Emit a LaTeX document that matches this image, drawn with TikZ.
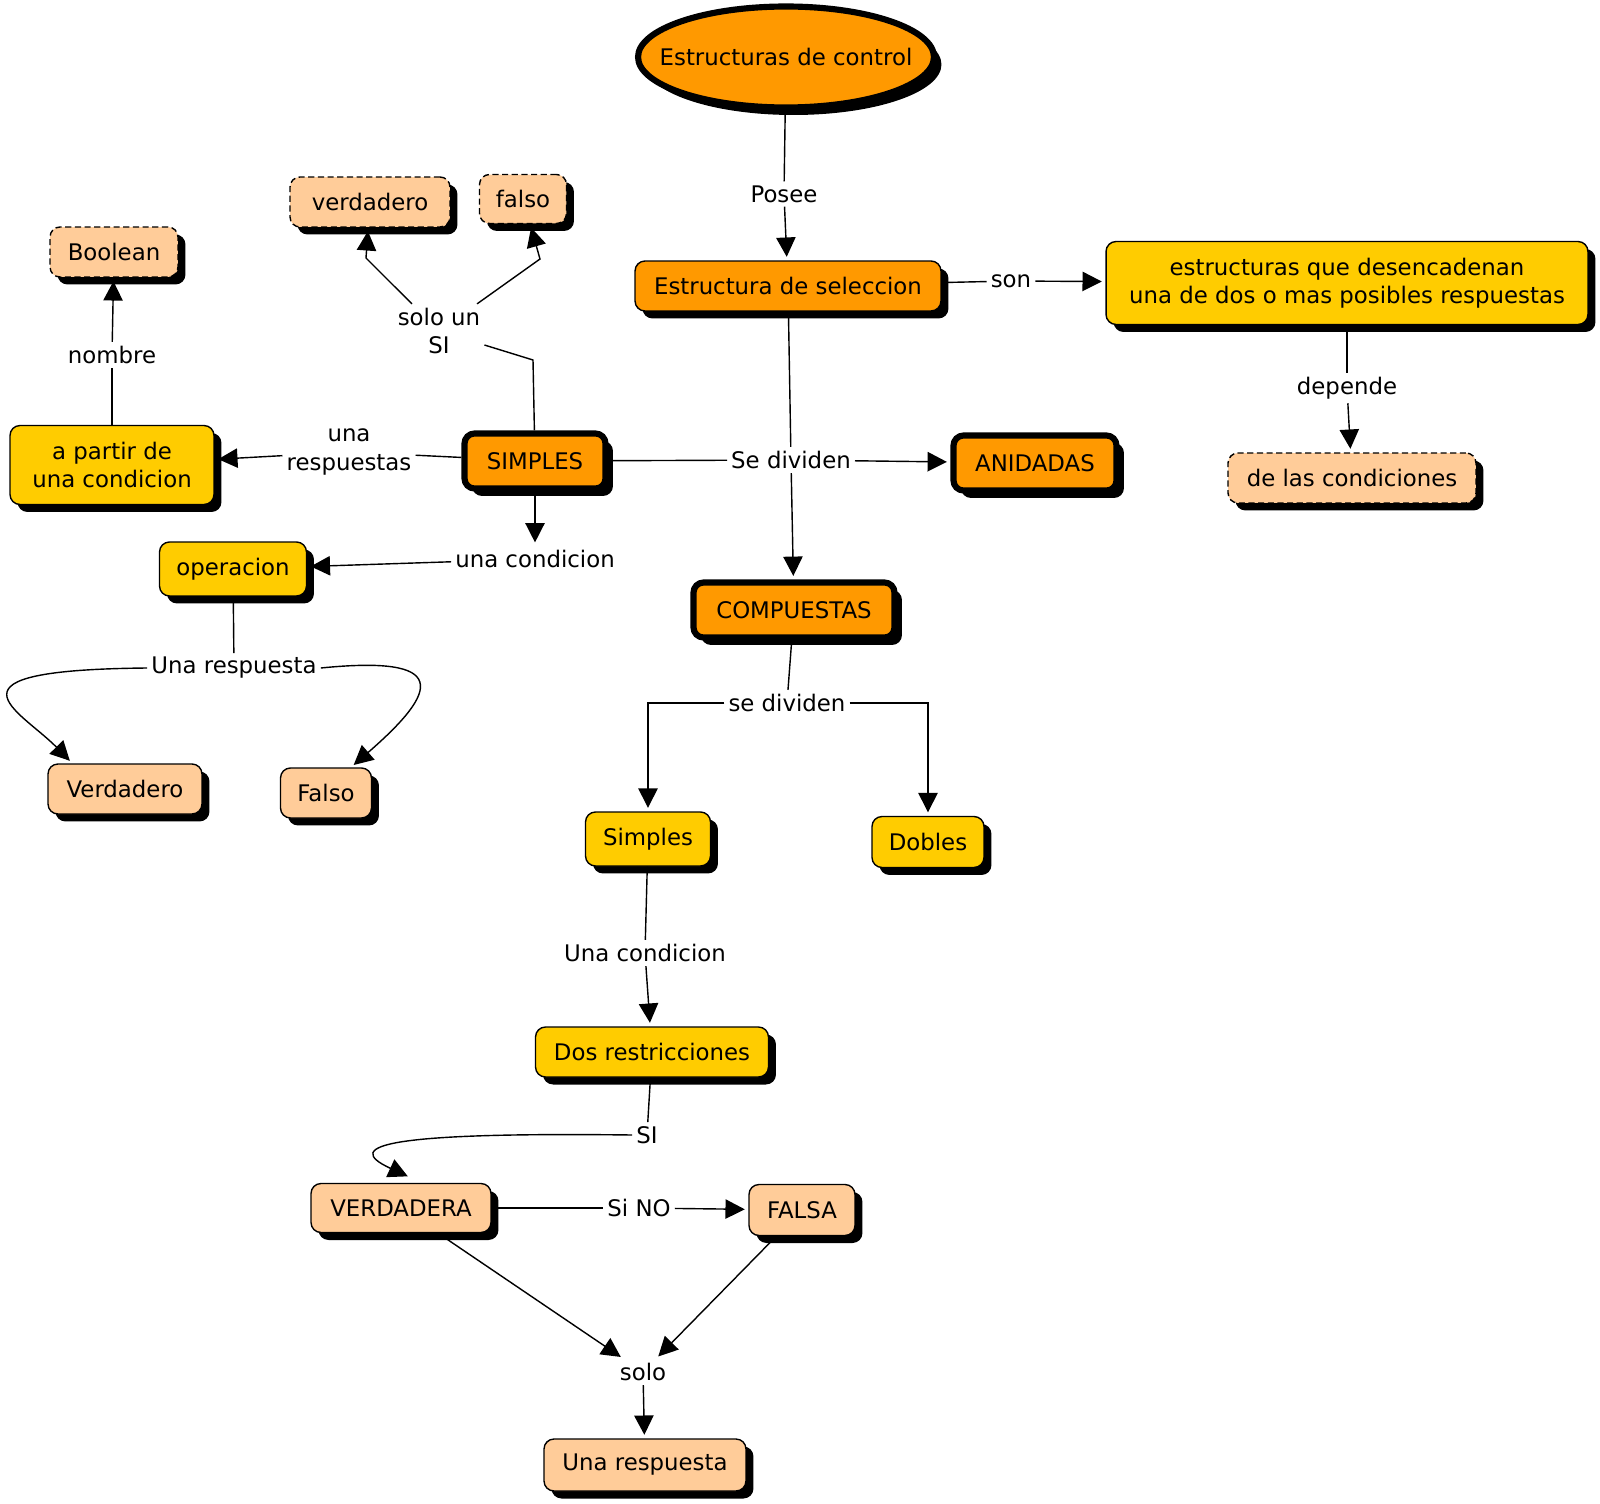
\documentclass[tikz,border=0pt]{standalone}
\usepackage{fontspec}
\setmainfont{DejaVu Sans}
\usetikzlibrary{arrows.meta,shapes.geometric,shadows}
\definecolor{naranja}{HTML}{FF9900}
\definecolor{amarillo}{HTML}{FFCC00}
\definecolor{durazno}{HTML}{FFCC99}
\tikzset{
  concepto/.style={rectangle, rounded corners=0.2cm, draw=black, line width=0.8pt, align=center, inner sep=0pt,
    font=\fontsize{13}{16}\selectfont, drop shadow={shadow xshift=0.15cm, shadow yshift=-0.15cm, fill=black, opacity=1}},
  cnaranja/.style={concepto, fill=naranja},
  camarillo/.style={concepto, fill=amarillo},
  cdurazno/.style={concepto, fill=durazno},
  grueso/.style={line width=3.5pt},
  punteado/.style={dash pattern=on 3.5pt off 2pt},
  enlace/.style={align=center, inner sep=2pt, font=\fontsize{13}{16}\selectfont},
  flecha/.style={-{Triangle[length=11pt,width=11pt]}, shorten >=2pt},
}
\begin{document}
\begin{tikzpicture}[x=0.02cm, y=-0.02cm, line width=0.8pt]
      \useasboundingbox (0, 0) rectangle (1600, 1504);

      \node[cnaranja, ellipse, sharp corners, grueso, inner xsep=-0.45cm, minimum width=5.92cm, minimum height=2.02cm] at(786, 57)(ctrl){Estructuras de control};
      \node[cnaranja, minimum width=6.12cm, minimum height=1cm] at(788, 286)(sel){Estructura de seleccion};
      \node[camarillo, minimum width=9.64cm, minimum height=1.66cm] at(1347, 283)(desen){estructuras que desencadenan\\una de dos o mas posibles respuestas};
      \node[cdurazno, punteado, minimum width=4.96cm, minimum height=1cm] at(1352, 478)(cond){de las condiciones};
      \node[cnaranja, grueso, minimum width=3.26cm, minimum height=1.1cm] at(1035, 463)(anid){ANIDADAS};
      \node[cnaranja, grueso, minimum width=2.82cm, minimum height=1.1cm] at(535, 461)(simp){SIMPLES};
      \node[cnaranja, grueso, minimum width=4.02cm, minimum height=1.1cm] at(794, 610)(comp){COMPUESTAS};
      \node[camarillo, minimum width=4.08cm, minimum height=1.58cm] at(112, 465)(apartir){a partir de\\una condicion};
      \node[cdurazno, punteado, minimum width=2.56cm, minimum height=1cm] at(114, 252)(bool){Boolean};
      \node[cdurazno, punteado, minimum width=3.2cm, minimum height=1cm] at(370, 202)(verd){verdadero};
      \node[cdurazno, punteado, minimum width=1.74cm, minimum height=0.98cm] at(523, 199)(fals){falso};
      \node[camarillo, minimum width=2.94cm, minimum height=1.08cm] at(233, 569)(oper){operacion};
      \node[cdurazno, minimum width=3.08cm, minimum height=1cm] at(125, 789)(Verd){Verdadero};
      \node[cdurazno, minimum width=1.82cm, minimum height=1cm] at(326, 793)(Fals){Falso};
      \node[camarillo, minimum width=2.5cm, minimum height=1.08cm] at(648, 839)(simp2){Simples};
      \node[camarillo, minimum width=2.24cm, minimum height=1.02cm] at(928, 842)(dobl){Dobles};
      \node[camarillo, minimum width=4.66cm, minimum height=1cm] at(652, 1052)(dosr){Dos restricciones};
      \node[cdurazno, minimum width=3.6cm, minimum height=0.98cm] at(401, 1208)(VERD){VERDADERA};
      \node[cdurazno, minimum width=2.12cm, minimum height=1.02cm] at(802, 1210)(FALS){FALSA};
      \node[cdurazno, minimum width=4.04cm, minimum height=1.04cm] at(645, 1465)(unar){Una respuesta};

      \node[enlace] at(784, 194)(posee){Posee};
      \node[enlace] at(1011, 281)(son){son};
      \node[enlace] at(1347, 388)(dep){depende};
      \node[enlace] at(791, 460)(sediv){Se dividen};
      \node[enlace] at(439, 331)(solosi){solo un\\SI};
      \node[enlace] at(112, 355)(nomb){nombre};
      \node[enlace] at(349, 452)(unaresps){una\\respuestas};
      \node[enlace] at(535, 559)(unacond){una condicion};
      \node[enlace] at(234, 668)(unaresp){Una respuesta};
      \node[enlace] at(787, 703)(sediv2){se dividen};
      \node[enlace] at(645, 953)(unacond2){Una condicion};
      \node[enlace] at(647, 1135)(si){SI};
      \node[enlace] at(639, 1208)(sino){Si NO};
      \node[enlace] at(643, 1372)(solo){solo};

      \coordinate (q1) at(533, 360);
      \coordinate (q2) at(366, 258);
      \coordinate (q3) at(540, 259);

      \draw (ctrl) to (posee);
      \draw[flecha] (posee) to (sel);
      \draw (sel) to (son);
      \draw[flecha] (son) to (desen);
      \draw (desen) to (dep);
      \draw[flecha] (dep) to (cond);
      \draw (sel) to (sediv);
      \draw[flecha] (sediv) to (comp);
      \draw (simp) to (sediv);
      \draw[flecha] (sediv) to (anid);
      \draw (simp) to (q1) to (solosi);
      \draw[flecha] (solosi) to (q2) to (verd);
      \draw[flecha] (solosi) to (q3) to (fals);
      \draw (simp) to (unaresps);
      \draw[flecha] (unaresps) to (apartir);
      \draw (apartir) to (nomb);
      \draw[flecha] (nomb) to (bool);
      \draw[flecha] (simp) to (unacond);
      \draw[flecha] (unacond) to (oper);
      \draw (oper) to (unaresp);
      \draw[flecha] (unaresp.west) .. controls (-70, 670) and (20, 710) .. ([xshift=0.5cm]Verd.north west);
      \draw[flecha] (unaresp.east) .. controls (450, 655) and (440, 690) .. ([xshift=0.5cm]Fals.north);
      \draw (comp) to (sediv2);
      \draw[flecha] (sediv2) -| (simp2);
      \draw[flecha] (sediv2) -| (dobl);
      \draw (simp2) to (unacond2);
      \draw[flecha] (unacond2) to (dosr);
      \draw (dosr) to (si);
      \draw[flecha] (si.west) .. controls (390, 1132) and (340, 1145) .. ([xshift=0.2cm, yshift=0.1cm]VERD.north);
      \draw (VERD) to (sino);
      \draw[flecha] (sino) to (FALS);
      \draw[flecha] (VERD) to (solo);
      \draw[flecha] (FALS) to (solo);
      \draw[flecha] (solo) to (unar);
      \end{tikzpicture}
\end{document}
